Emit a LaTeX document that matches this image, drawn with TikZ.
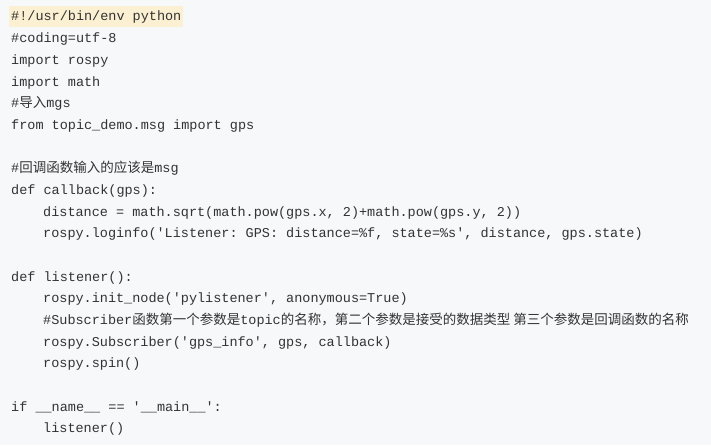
\documentclass[tikz,border=0pt]{standalone}
\usepackage{fontspec}
\setmonofont{Liberation Mono}
\newfontfamily\cjk{Noto Sans CJK SC}
\definecolor{bgc}{HTML}{F7F8FA}
\definecolor{hl}{HTML}{FBF0D2}
\definecolor{txt}{HTML}{333333}
\tikzset{code/.style={anchor=base west,inner sep=0pt,text=txt,font=\ttfamily\fontsize{13.5}{16}\selectfont}}
\newcommand{\codeln}[3]{\node[code] (l#1) at (#2,{445-21-21.68*#1}) {#3};}
\begin{document}
\begin{tikzpicture}[x=1pt,y=1pt]
\fill[bgc] (0,0) rectangle (711,445);
\useasboundingbox (0,0) rectangle (711,445);
\fill[hl] (9,445-6) rectangle (183,445-27);
\codeln{0}{11}{\#!/usr/bin/env python}
\codeln{1}{11}{\#coding=utf-8}
\codeln{2}{11}{import rospy}
\codeln{3}{11}{import math}
\codeln{4}{11}{\#{\cjk 导入}mgs}
\codeln{5}{11}{from topic\_demo.msg import gps}
\codeln{7}{11}{\#{\cjk 回调函数输入的应该是}msg}
\codeln{8}{11}{def callback(gps):}
\codeln{9}{43}{distance = math.sqrt(math.pow(gps.x, 2)+math.pow(gps.y, 2))}
\codeln{10}{43}{rospy.loginfo('Listener: GPS: distance=\%f, state=\%s', distance, gps.state)}
\codeln{12}{11}{def listener():}
\codeln{13}{43}{rospy.init\_node('pylistener', anonymous=True)}
\codeln{14}{43}{\#Subscriber{\cjk 函数第一个参数是}topic{\cjk 的名称，第二个参数是接受的数据类型 第三个参数是回调函数的名称}}
\codeln{15}{43}{rospy.Subscriber('gps\_info', gps, callback)}
\codeln{16}{43}{rospy.spin()}
\codeln{18}{11}{if \_\_name\_\_ == '\_\_main\_\_':}
\codeln{19}{43}{listener()}
\end{tikzpicture}
\end{document}
